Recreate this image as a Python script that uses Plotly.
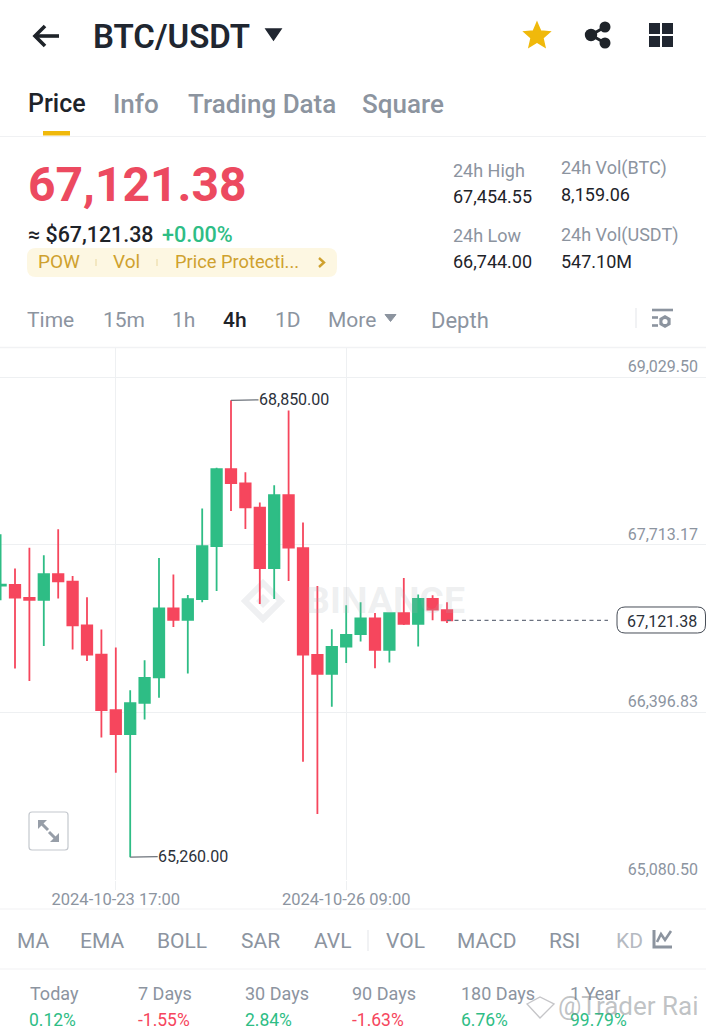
import math
import datetime as dt
import plotly.graph_objects as go

W, H = 706, 1029
FONT = "Roboto"
DARK = "#1E2329"
GREY = "#8C949F"
RED = "#F6465D"
GREEN = "#2EBD85"
YELLOW = "#F0B90B"
GOLD = "#CFA12E"
LINE = "#EEF0F2"

# --- data: 4h candles -------------------------------------------------
first_candle = "2024-10-22T09:00:00"
opens = [67393, 67399, 67297, 67281, 67483, 67425, 67082, 66852, 66415, 66227, 66472,
         66672, 67214, 67124, 67287, 67705, 68310, 68197, 68007, 67532, 68105, 67689,
         66849, 66700, 66915, 67012, 67137, 66889, 67177, 67093, 67289, 67202]
highs = [67797, 67528, 67692, 67632, 67836, 67470, 67302, 67049, 66907, 66572, 66808,
         67611, 67481, 67320, 67999, 68321, 68850, 68284, 68046, 68182, 68770, 67889,
         67391, 67051, 67239, 67263, 67179, 67179, 67454, 67324, 67318, 67263]
lows = [67279, 66743, 66645, 66920, 67292, 66892, 66802, 66201, 65923, 65260, 66342,
        66512, 67069, 66703, 67263, 67352, 67980, 67839, 67250, 67289, 67430, 66009,
        65599, 66441, 66786, 66955, 66745, 66790, 67085, 66915, 67121, 67100]
closes = [67401, 67300, 67281, 67483, 67428, 67082, 66852, 66415, 66227, 66470, 66669,
          67214, 67124, 67287, 67703, 68310, 68200, 68009, 67532, 68105, 67692, 66852,
          66700, 66912, 67006, 67137, 66889, 67177, 67093, 67289, 67206, 67121.38]
price_ticks = [69029.50, 67713.17, 66396.83, 65080.50]
price_tick_labels = ["69,029.50", "67,713.17", "66,396.83", "65,080.50"]
date_ticks = ["2024-10-23T17:00:00", "2024-10-26T09:00:00"]
max_price, min_price = 68850.00, 65260.00
max_label, min_label = "68,850.00", "65,260.00"
last_price = 67121.38
last_label = "67,121.38"

tabs = ["Price", "Info", "Trading Data", "Square"]
periods = ["Time", "15m", "1h", "4h", "1D", "More", "Depth"]
indicators = ["MA", "EMA", "BOLL", "SAR", "AVL", "VOL", "MACD", "RSI", "KD"]
perf_names = ["Today", "7 Days", "30 Days", "90 Days", "180 Days", "1 Year"]
perf_values = ["0.12%", "-1.55%", "2.84%", "-1.63%", "6.76%", "99.79%"]

# --- helpers: screen pixels to paper ----------------------------------
def fx(x): return x / W
def fy(y): return 1 - y / H

anns, shapes = [], []

def txt(x, y, s, size, color=GREY, anchor="left", weight=400, family=FONT):
    anns.append(dict(x=fx(x), y=fy(y), xref="paper", yref="paper", text=s, showarrow=False,
                     xanchor=anchor, yanchor="middle", borderpad=0, borderwidth=0,
                     font=dict(size=size, color=color, family=family, weight=weight)))

def path(pts, close=False):
    d = "M" + " L".join(f"{fx(a):.5f},{fy(b):.5f}" for a, b in pts)
    return d + (" Z" if close else "")

def stroke(pts, color, width=2, close=False, layer="above"):
    shapes.append(dict(type="path", xref="paper", yref="paper", path=path(pts, close),
                       line=dict(color=color, width=width), layer=layer))

def fill(pts, color, layer="above", lw=0):
    shapes.append(dict(type="path", xref="paper", yref="paper", path=path(pts, True),
                       fillcolor=color, line=dict(color=color, width=lw), layer=layer))

def rrect(x0, y0, x1, y1, r, color=None, border=None, bw=1, layer="above"):
    def pt(a, b): return f"{fx(a):.5f},{fy(b):.5f}"
    d = (f"M{pt(x0+r,y0)} L{pt(x1-r,y0)} Q{pt(x1,y0)} {pt(x1,y0+r)} L{pt(x1,y1-r)} "
         f"Q{pt(x1,y1)} {pt(x1-r,y1)} L{pt(x0+r,y1)} Q{pt(x0,y1)} {pt(x0,y1-r)} "
         f"L{pt(x0,y0+r)} Q{pt(x0,y0)} {pt(x0+r,y0)} Z")
    shapes.append(dict(type="path", xref="paper", yref="paper", path=d, layer=layer,
                       fillcolor=color or "rgba(0,0,0,0)",
                       line=dict(color=border or "rgba(0,0,0,0)", width=bw)))

def circle(cx, cy, r, color, border=None, bw=0):
    shapes.append(dict(type="circle", xref="paper", yref="paper",
                       x0=fx(cx-r), x1=fx(cx+r), y0=fy(cy+r), y1=fy(cy-r),
                       fillcolor=color, line=dict(color=border or color, width=bw)))

def hline(x0, x1, y, color=LINE, width=1.5, layer="below"):
    stroke([(x0, y), (x1, y)], color, width, layer=layer)

# --- header -----------------------------------------------------------
stroke([(59, 36), (35, 36)], DARK, 3.6)
stroke([(45, 26), (35, 36), (45, 46)], DARK, 3.6)
txt(93, 37, "BTC/USDT", 33, "#202630", weight=600)
fill([(266, 29), (281, 29), (273.5, 40)], "#202630", lw=1.5)

star = []
for k in range(10):
    r = 13.5 if k % 2 == 0 else 6.2
    a = -math.pi / 2 + k * math.pi / 5
    star.append((537 + r * math.cos(a), 36 + r * math.sin(a)))
fill(star, YELLOW, lw=1.5)

stroke([(605, 27), (591, 35), (605, 43)], DARK, 3)
circle(591, 35, 6.2, DARK)
circle(605, 27, 5.5, DARK)
circle(605, 43, 5.5, DARK)
for a, b in [(649, 23), (662, 23), (649, 36), (662, 36)]:
    fill([(a, b), (a + 11, b), (a + 11, b + 11), (a, b + 11)], "#202630")

for s, x, c, z in zip(tabs, [28, 113, 188, 362], [DARK, GREY, GREY, GREY], [25, 26, 26, 26]):
    txt(x, 104, s, z, c, weight=500)
fill([(43, 131), (70, 131), (70, 135.5), (43, 135.5)], YELLOW)
hline(0, W, 136.5, "#F0F1F3", 1.2)

# --- price block ------------------------------------------------------
txt(28, 185, last_label, 48, "#EC4A60", weight=700)
txt(28, 234, "≈ $67,121.38", 21.4, DARK, weight=500)
txt(162, 234, "+0.00%", 21.6, GREEN, weight=500)
rrect(27, 248, 337, 277, 9, color="#FDF7E2")
txt(38, 262, "POW", 19, GOLD)
txt(113, 262, "Vol", 19, GOLD)
txt(175, 262, "Price Protecti...", 18.3, GOLD)
stroke([(96, 259), (96, 266)], "#EFE2B5", 1.5)
stroke([(157, 259), (157, 266)], "#EFE2B5", 1.5)
stroke([(319, 258), (324, 262.5), (319, 267)], GOLD, 2.4)

txt(453, 170, "24h High", 18)
txt(453, 196, "67,454.55", 18, DARK)
txt(453, 236, "24h Low", 18)
txt(453, 262, "66,744.00", 18, DARK)
txt(561, 168, "24h Vol(BTC)", 18)
txt(561, 194, "8,159.06", 18, DARK)
txt(561, 235, "24h Vol(USDT)", 18)
txt(561, 261, "547.10M", 18, DARK)

# --- period row -------------------------------------------------------
for s, x in zip(periods, [27, 103, 172, 223, 275, 328, 431]):
    txt(x, 320, s, 22 if s == "Depth" else 21, DARK if s == "4h" else GREY,
        weight=500 if s == "4h" else 400)
fill([(385, 314.5), (396, 314.5), (390.5, 321.5)], GREY, lw=1)
stroke([(636, 308), (636, 328)], "#EDEEF0", 1.5)
stroke([(652, 310), (673, 310)], GREY, 2.6)
stroke([(652, 317.5), (658, 317.5)], GREY, 2.6)
stroke([(652, 325.5), (658, 325.5)], GREY, 2.6)
hexagon = [(665 + 6.5 * math.cos(k * math.pi / 3 + math.pi / 6),
            321.5 + 6.5 * math.sin(k * math.pi / 3 + math.pi / 6)) for k in range(6)]
fill(hexagon, GREY)
circle(665, 321.5, 2.6, "#FFFFFF")
hline(0, W, 347.5, "#F1F2F4", 1.5)

# --- chart furniture --------------------------------------------------
diamond = [(263, 583), (281, 601), (263, 619), (245, 601)]
stroke(diamond, "#EFF0F2", 6, close=True, layer="below")
fill([(263, 594), (270, 601), (263, 608), (256, 601)], "#EFF0F2", layer="below")
txt(306, 600, "BINANCE", 37.5, "rgba(170,175,182,0.20)", weight=700)

rrect(29, 812, 68, 850, 3, color="#FFFFFF", border="#C4C8CE", bw=1.2)
EX = "#979EA8"
fill([(38, 820), (47, 820), (38, 829)], EX)
fill([(59, 842), (50, 842), (59, 833)], EX)
stroke([(41, 823), (48, 830)], EX, 3)
stroke([(56, 839), (49, 832)], EX, 3)

rrect(617, 607, 705.5, 633, 8, color="#FFFFFF", border="#474D57", bw=1)
txt(627, 621, last_label, 16, "#2B3139")

# --- lower rows -------------------------------------------------------
hline(0, W, 909, "#F1F2F4", 1.2)
for s, x in zip(indicators, [17, 80, 157, 241, 314, 386, 457, 549, 616]):
    txt(x, 941, s, 21, "#B5BAC2" if s == "KD" else GREY)
stroke([(368, 930), (368, 951)], "#EDEEF0", 1.5)
stroke([(654, 930), (654, 947), (672, 947)], GREY, 3)
stroke([(657, 942), (661, 934), (665, 940), (671, 931)], GREY, 2.6)
hline(0, W, 969, "#F1F2F4", 1.2)

for n, v, x in zip(perf_names, perf_values, [30, 138, 245, 352, 461, 570]):
    txt(x, 993, n, 18)
    txt(x - 1 if n == "Today" else x, 1020, v, 17.5, RED if v.startswith("-") else GREEN)

txt(558, 1006, "@Trader Rai", 26, "rgba(130,135,140,0.50)")
stroke([(527, 1004), (540, 997), (554, 1004), (540, 1018)], "rgba(150,150,155,0.55)", 1.4, close=True)

# --- figure -----------------------------------------------------------
fig = go.Figure()

t0 = dt.datetime.fromisoformat(first_candle)
dates = [t0 + dt.timedelta(hours=4 * i) for i in range(len(opens))]

fig.add_trace(go.Candlestick(
    x=dates, open=opens, high=highs, low=lows, close=closes,
    increasing=dict(line=dict(color=GREEN, width=1.8), fillcolor=GREEN),
    decreasing=dict(line=dict(color=RED, width=1.8), fillcolor=RED),
    whiskerwidth=0, showlegend=False, hoverinfo="skip",
))
fig.add_trace(go.Scatter(
    x=[dates[-1], "2024-10-29T09:43:00"], y=[last_price, last_price], mode="lines",
    line=dict(color="#6B7280", width=1.2, dash="4px,3.5px"), showlegend=False, hoverinfo="skip",
))

imax = highs.index(max(highs))
imin = lows.index(min(lows))
for i, val, lab in [(imax, max_price, max_label), (imin, min_price, min_label)]:
    anns.append(dict(x=dates[i], y=val, xref="x", yref="y", text=lab, showarrow=True,
                     arrowhead=0, arrowwidth=1.2, arrowcolor="#6E747C", axref="pixel", ayref="pixel",
                     ax=63, ay=-1, standoff=0, startstandoff=0, borderpad=0,
                     font=dict(size=16, color="#2B3139", family=FONT)))

fig.update_layout(
    width=W, height=H, autosize=False, margin=dict(l=0, r=0, t=0, b=0),
    paper_bgcolor="#FFFFFF", plot_bgcolor="#FFFFFF",
    font=dict(family=FONT), showlegend=False, boxgap=0.2, boxgroupgap=0.09,
    xaxis=dict(type="date", domain=[0, 1], range=["2024-10-22T08:50:00", "2024-10-30T12:56:40"],
               rangeslider=dict(visible=False), tickmode="array", tickvals=date_ticks,
               tickformat="%Y-%m-%d %H:%M", ticks="outside", ticklen=9, tickcolor=LINE, tickwidth=1,
               ticklabelstandoff=-5,
               tickfont=dict(size=16.5, color=GREY, family=FONT), showgrid=True,
               gridcolor=LINE, gridwidth=1, showline=False, zeroline=False, fixedrange=True),
    yaxis=dict(domain=[fy(880), fy(347.5)], range=[65080.5, 69265], side="right",
               tickmode="array", tickvals=price_ticks, ticktext=price_tick_labels,
               ticklabelposition="inside", ticklabelshift=-11, ticklabelstandoff=5, ticks="",
               tickfont=dict(size=16, color=GREY, family=FONT), showgrid=True,
               gridcolor=LINE, gridwidth=1, showline=False, zeroline=False, fixedrange=True),
    annotations=anns, shapes=shapes,
)

fig.write_html("out.html", config=dict(displayModeBar=False, staticPlot=True),
               post_script="document.body.style.margin='0';")
